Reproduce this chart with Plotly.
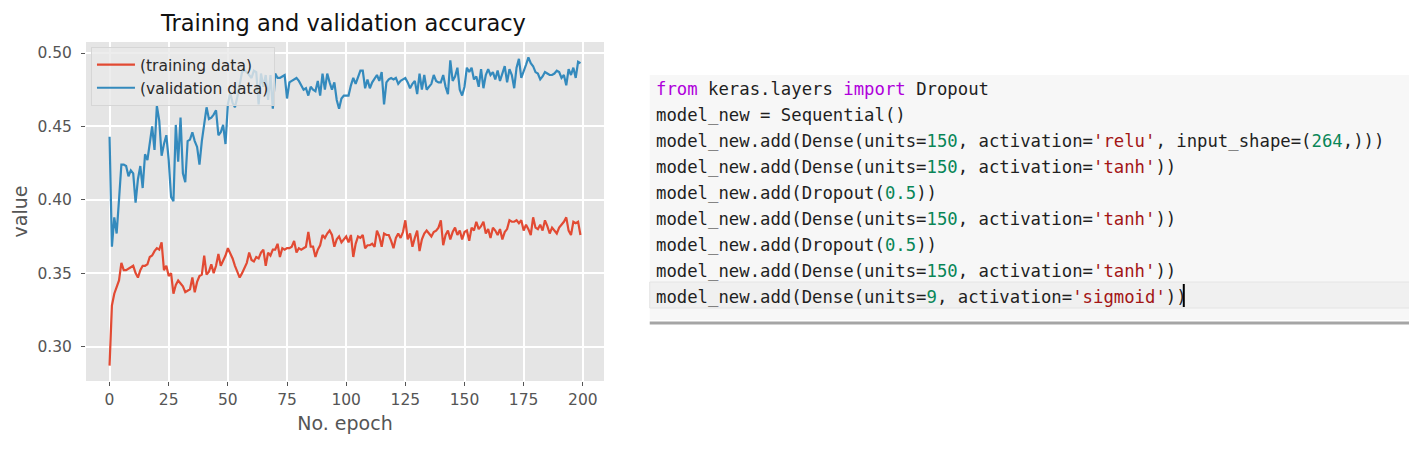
import plotly.graph_objects as go

# ---------------- data ----------------
epochs = list(range(200))

train_acc = [
    0.287, 0.328, 0.336, 0.341, 0.345, 0.357, 0.352, 0.352, 0.353, 0.354,
    0.355, 0.350, 0.347, 0.352, 0.355, 0.355, 0.356, 0.361, 0.362, 0.365,
    0.367, 0.366, 0.371, 0.352, 0.355, 0.348, 0.350, 0.336, 0.342, 0.345,
    0.343, 0.341, 0.337, 0.338, 0.339, 0.347, 0.337, 0.344, 0.348, 0.349,
    0.362, 0.349, 0.351, 0.356, 0.350, 0.355, 0.363, 0.355, 0.358, 0.362,
    0.367, 0.364, 0.360, 0.355, 0.351, 0.347, 0.350, 0.353, 0.357, 0.364,
    0.359, 0.358, 0.361, 0.360, 0.364, 0.366, 0.355, 0.364, 0.362, 0.366,
    0.366, 0.370, 0.361, 0.367, 0.366, 0.367, 0.367, 0.368, 0.372, 0.364,
    0.367, 0.366, 0.367, 0.368, 0.378, 0.368, 0.368, 0.361, 0.366, 0.369,
    0.376, 0.374, 0.377, 0.379, 0.376, 0.368, 0.373, 0.375, 0.371, 0.373,
    0.375, 0.371, 0.376, 0.361, 0.370, 0.375, 0.374, 0.376, 0.367, 0.369,
    0.369, 0.370, 0.368, 0.379, 0.375, 0.368, 0.377, 0.376, 0.376, 0.372,
    0.367, 0.374, 0.377, 0.374, 0.378, 0.386, 0.373, 0.377, 0.368, 0.374,
    0.379, 0.365, 0.373, 0.377, 0.379, 0.377, 0.375, 0.378, 0.379, 0.381,
    0.386, 0.369, 0.376, 0.379, 0.373, 0.378, 0.381, 0.376, 0.379, 0.373,
    0.378, 0.379, 0.372, 0.381, 0.379, 0.385, 0.380, 0.382, 0.385, 0.377,
    0.380, 0.374, 0.381, 0.379, 0.376, 0.380, 0.373, 0.378, 0.380, 0.386,
    0.385, 0.385, 0.386, 0.384, 0.386, 0.379, 0.383, 0.380, 0.376, 0.388,
    0.381, 0.380, 0.383, 0.379, 0.386, 0.382, 0.377, 0.381, 0.379, 0.377,
    0.381, 0.383, 0.385, 0.388, 0.379, 0.376, 0.385, 0.384, 0.385, 0.376,
]

val_acc = [
    0.443, 0.368, 0.388, 0.377, 0.400, 0.424, 0.424, 0.423, 0.416, 0.420,
    0.418, 0.398, 0.414, 0.423, 0.408, 0.431, 0.427, 0.438, 0.450, 0.434,
    0.464, 0.454, 0.430, 0.438, 0.444, 0.427, 0.402, 0.399, 0.451, 0.426,
    0.456, 0.418, 0.412, 0.440, 0.441, 0.446, 0.440, 0.436, 0.424, 0.440,
    0.450, 0.463, 0.455, 0.456, 0.458, 0.461, 0.444, 0.446, 0.451, 0.438,
    0.465, 0.473, 0.466, 0.463, 0.470, 0.479, 0.487, 0.488, 0.487, 0.485,
    0.483, 0.488, 0.487, 0.465, 0.486, 0.477, 0.485, 0.468, 0.485, 0.462,
    0.486, 0.483, 0.483, 0.484, 0.485, 0.469, 0.480, 0.481, 0.482, 0.483,
    0.481, 0.478, 0.475, 0.476, 0.471, 0.477, 0.475, 0.474, 0.481, 0.471,
    0.486, 0.475, 0.486, 0.480, 0.475, 0.480, 0.468, 0.462, 0.469, 0.471,
    0.471, 0.471, 0.478, 0.483, 0.479, 0.484, 0.488, 0.488, 0.476, 0.482,
    0.476, 0.480, 0.483, 0.485, 0.481, 0.487, 0.465, 0.480, 0.482, 0.483,
    0.482, 0.483, 0.479, 0.481, 0.482, 0.483, 0.480, 0.476, 0.479, 0.481,
    0.472, 0.486, 0.475, 0.485, 0.475, 0.477, 0.479, 0.485, 0.481, 0.480,
    0.480, 0.485, 0.477, 0.472, 0.495, 0.481, 0.484, 0.490, 0.475, 0.471,
    0.477, 0.490, 0.487, 0.490, 0.482, 0.484, 0.477, 0.489, 0.476, 0.485,
    0.489, 0.485, 0.487, 0.482, 0.488, 0.481, 0.486, 0.491, 0.480, 0.489,
    0.485, 0.476, 0.490, 0.496, 0.483, 0.487, 0.492, 0.497, 0.493, 0.491,
    0.487, 0.486, 0.482, 0.484, 0.487, 0.486, 0.485, 0.485, 0.486, 0.488,
    0.487, 0.483, 0.485, 0.478, 0.489, 0.485, 0.490, 0.483, 0.494, 0.493,
]

series_names = ["(training data)", "(validation data)"]
x_ticks = [0, 25, 50, 75, 100, 125, 150, 175, 200]
y_ticks = [0.30, 0.35, 0.40, 0.45, 0.50]

KW, TX, NUM, STR = "#AF00DB", "#1f1f1f", "#098658", "#A31515"
code_lines = [
    [("from", KW), (" keras.layers ", TX), ("import", KW), (" Dropout", TX)],
    [("model_new = Sequential()", TX)],
    [("model_new.add(Dense(units=", TX), ("150", NUM), (", activation=", TX),
     ("'relu'", STR), (", input_shape=(", TX), ("264", NUM), (",)))", TX)],
    [("model_new.add(Dense(units=", TX), ("150", NUM), (", activation=", TX),
     ("'tanh'", STR), ("))", TX)],
    [("model_new.add(Dropout(", TX), ("0.5", NUM), ("))", TX)],
    [("model_new.add(Dense(units=", TX), ("150", NUM), (", activation=", TX),
     ("'tanh'", STR), ("))", TX)],
    [("model_new.add(Dropout(", TX), ("0.5", NUM), ("))", TX)],
    [("model_new.add(Dense(units=", TX), ("150", NUM), (", activation=", TX),
     ("'tanh'", STR), ("))", TX)],
    [("model_new.add(Dense(units=", TX), ("9", NUM), (", activation=", TX),
     ("'sigmoid'", STR), ("))", TX)],
]

# ---------------- layout geometry (page pixels) ----------------
OFF = 8                      # default body margin of the html page
PAGE_W, PAGE_H = 1417, 450
W, H = PAGE_W - OFF, PAGE_H - OFF
PL, PR, PT, PB = 83, 604, 42, 381  # plot area in page pixels
CODE_FS = 17.3
CHAR_W = CODE_FS * 0.602


def px(x):
    return (x - PL) / (PR - PL)


def py(y):
    return (PB - y) / (PB - PT)


fig = go.Figure()
fig.add_trace(go.Scatter(x=epochs, y=train_acc, mode="lines", name=series_names[0],
                         legendgroup="a", line=dict(color="#E24A33", width=2.2)))
fig.add_trace(go.Scatter(x=epochs, y=val_acc, mode="lines", name=series_names[1],
                         legendgroup="b", line=dict(color="#348ABD", width=2.2)))

axis_common = dict(
    showgrid=True, gridcolor="white", gridwidth=1.6, zeroline=False,
    ticks="outside", ticklen=4, tickcolor="#555555", tickwidth=1,
    tickfont=dict(family="DejaVu Sans", size=15.5, color="#555555"),
    showline=False,
)

fig.update_layout(
    width=W, height=H,
    margin=dict(l=PL - OFF, r=PAGE_W - PR, t=PT - OFF, b=PAGE_H - PB),
    paper_bgcolor="white", plot_bgcolor="#E5E5E5",
    font=dict(family="DejaVu Sans"),
    title=dict(text="Training and validation accuracy", x=(343.5 - OFF) / W, xanchor="center",
               y=1 - (23 - OFF) / H, yanchor="middle", yref="container",
               font=dict(family="DejaVu Sans", size=22.5, color="#111111")),
    xaxis=dict(range=[-9.95, 208.95], tickvals=x_ticks,
               title=dict(text="No. epoch", standoff=9,
                          font=dict(family="DejaVu Sans", size=19, color="#555555")),
               **axis_common),
    yaxis=dict(range=[0.2765, 0.5075], tickvals=y_ticks, tickformat=".2f",
               ticklabelstandoff=6,
               title=dict(text="value", standoff=4,
                          font=dict(family="DejaVu Sans", size=19, color="#555555")),
               **axis_common),
    legend=dict(x=px(88), y=py(47), xanchor="left", yanchor="top",
                bgcolor="rgba(232,232,232,0.8)", bordercolor="#d6d6d6", borderwidth=1,
                font=dict(family="DejaVu Sans", size=15.5, color="#2a2a2a"),
                traceorder="grouped", tracegroupgap=0, itemwidth=38),
    showlegend=True,
    hovermode=False,
)

# ---------------- code panel ----------------
cursor_x = 654 + len("".join(t for t, _ in code_lines[-1])) * CHAR_W + 2
shapes = [
    dict(type="rect", xref="paper", yref="paper", x0=px(650), x1=px(PAGE_W), y0=py(320), y1=py(75),
         fillcolor="#f7f7f7", line=dict(width=0), layer="below"),
    dict(type="rect", xref="paper", yref="paper", x0=px(650), x1=px(PAGE_W), y0=py(308), y1=py(282),
         fillcolor="#f0f0f0", line=dict(color="#e4e4e4", width=1), layer="below"),
    dict(type="line", xref="paper", yref="paper", x0=px(650), x1=px(PAGE_W), y0=py(323), y1=py(323),
         line=dict(color="#a5a5a5", width=3)),
    dict(type="line", xref="paper", yref="paper", x0=px(cursor_x), x1=px(cursor_x), y0=py(307), y1=py(284),
         line=dict(color="#000000", width=2)),
]
fig.update_layout(shapes=shapes)

line_y0, line_step = 89.3, 25.9
for i, toks in enumerate(code_lines):
    txt = "".join(f'<span style="color:{c}">{t}</span>' for t, c in toks)
    fig.add_annotation(x=px(654), y=py(line_y0 + i * line_step), xref="paper", yref="paper",
                       text=txt, showarrow=False, xanchor="left", yanchor="middle",
                       font=dict(family="DejaVu Sans Mono", size=CODE_FS, color=TX))

fig.write_html("out.html")
